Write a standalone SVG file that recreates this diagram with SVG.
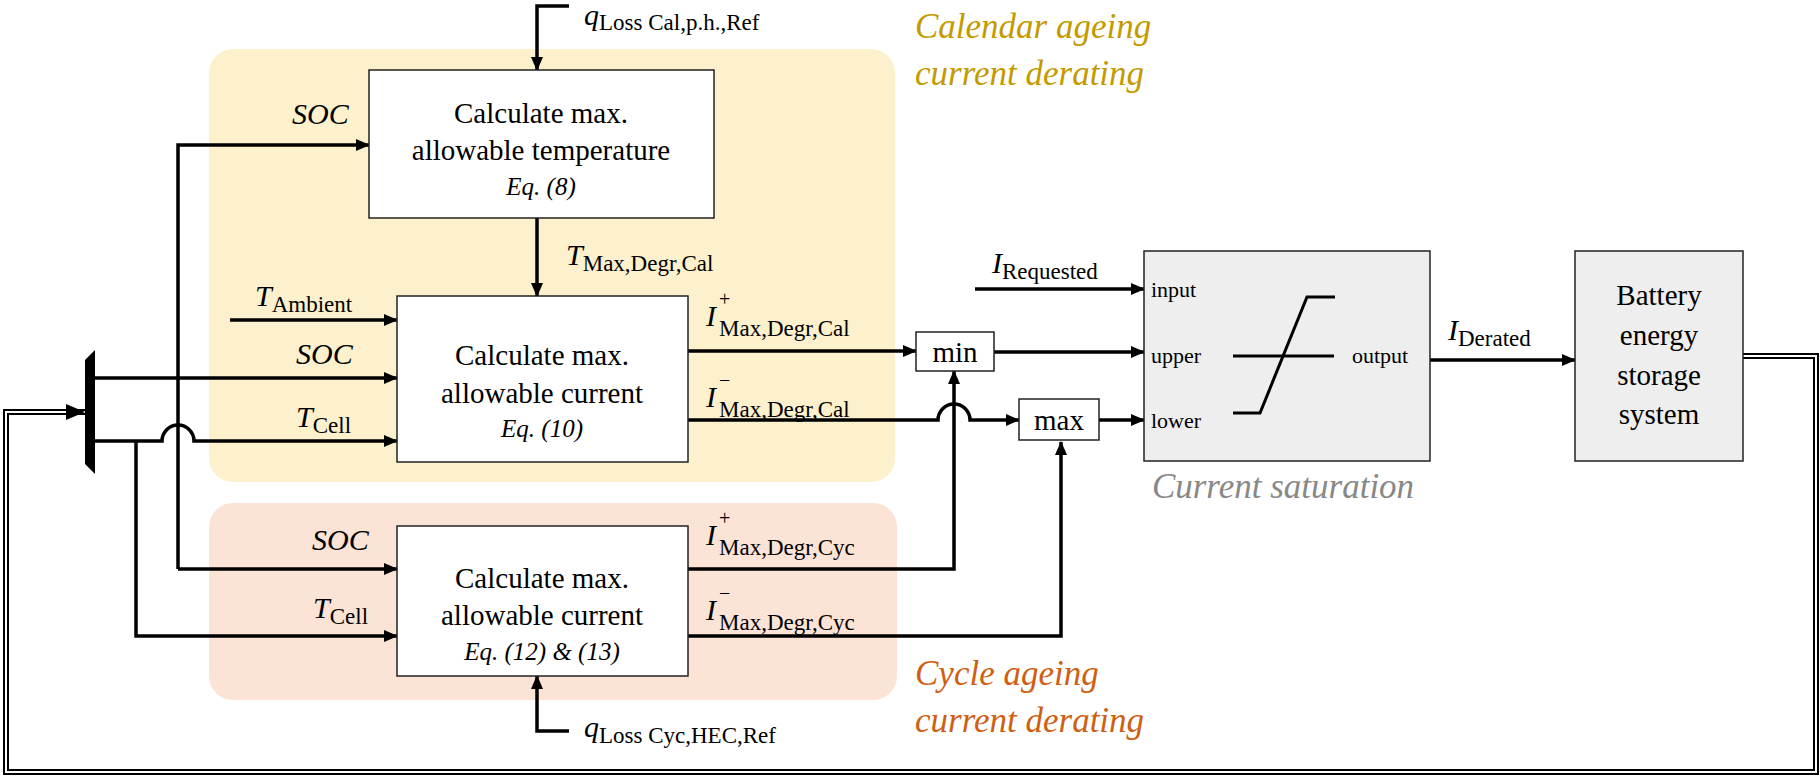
<svg xmlns="http://www.w3.org/2000/svg" width="1820" height="780" viewBox="0 0 1820 780">
<defs>
<marker id="ar" markerUnits="userSpaceOnUse" markerWidth="14" markerHeight="14" viewBox="0 0 14 14" refX="13" refY="7" orient="auto"><path d="M0,1 L14,7 L0,13 z" fill="#000"/></marker>
<style>
.w{stroke:#000;stroke-width:3.5;fill:none}
.bx{fill:#fff;stroke:#222;stroke-width:1.5}
.gb{fill:#eee;stroke:#222;stroke-width:1.5}
.t{font-family:"Liberation Serif",serif;font-size:29px;text-anchor:middle}
.e{font-family:"Liberation Serif",serif;font-size:25px;font-style:italic;text-anchor:middle}
.v{font-family:"Liberation Serif",serif;font-size:30px;font-style:italic}
.s{font-family:"Liberation Serif",serif;font-size:23px;font-style:normal}
.u{font-family:"Liberation Serif",serif;font-size:20px}
.p{font-family:"Liberation Serif",serif;font-size:22px}
.g{font-family:"Liberation Serif",serif;font-size:35px;font-style:italic}
</style>
</defs>
<rect x="209" y="49" width="686" height="433" rx="24" fill="#fdf0cc"/>
<rect x="209" y="503" width="688" height="197" rx="24" fill="#fbe3d6"/>
<text class="g" x="915" y="38" fill="#c49a00">Calendar ageing</text>
<text class="g" x="915" y="85" fill="#c49a00">current derating</text>
<text class="g" x="915" y="685" fill="#cf5f12">Cycle ageing</text>
<text class="g" x="915" y="732" fill="#cf5f12">current derating</text>
<g id="connectors">
<path class="w" d="M569,6 H537 V70" marker-end="url(#ar)"/>
<path class="w" d="M537,218 V296" marker-end="url(#ar)"/>
<path class="w" d="M569,731 H537 V676" marker-end="url(#ar)"/>
<path class="w" d="M178,569 V145 H369" marker-end="url(#ar)"/>
<path class="w" d="M178,569 H397" marker-end="url(#ar)"/>
<path class="w" d="M230,320 H397" marker-end="url(#ar)"/>
<path class="w" d="M95,378 H397" marker-end="url(#ar)"/>
<path class="w" d="M95,441 H162 A16,16 0 0 1 194,441 H397" marker-end="url(#ar)"/>
<path class="w" d="M136,441 V636 H397" marker-end="url(#ar)"/>
<path class="w" d="M688,351 H916" marker-end="url(#ar)"/>
<path class="w" d="M688,420 H938 A16,16 0 0 1 970,420 H1019" marker-end="url(#ar)"/>
<path class="w" d="M688,569 H954 V371" marker-end="url(#ar)"/>
<path class="w" d="M688,636 H1061 V442" marker-end="url(#ar)"/>
<path class="w" d="M994,352 H1144" marker-end="url(#ar)"/>
<path class="w" d="M1099,420 H1144" marker-end="url(#ar)"/>
<path class="w" d="M975,289 H1144" marker-end="url(#ar)"/>
<path class="w" d="M1430,360 H1575" marker-end="url(#ar)"/>
<path d="M1743,356 H1816 V772 H6 V412 H85" fill="none" stroke="#000" stroke-width="6"/>
<path d="M1743,356 H1816 V772 H6 V412 H85" fill="none" stroke="#fff" stroke-width="2"/>
<path d="M66,404 L85,412 L66,420 z" fill="#000"/>
<polygon points="85,360 95,350 95,474 85,464" fill="#000"/>
</g>
<g id="box1"><rect class="bx" x="369" y="70" width="345" height="148"/>
<text class="t" x="541" y="123">Calculate max.</text><text class="t" x="541" y="160">allowable temperature</text><text class="e" x="541" y="195">Eq. (8)</text></g>
<g id="box2"><rect class="bx" x="397" y="296" width="291" height="166"/>
<text class="t" x="542" y="365">Calculate max.</text><text class="t" x="542" y="403">allowable current</text><text class="e" x="542" y="437">Eq. (10)</text></g>
<g id="box3"><rect class="bx" x="397" y="526" width="291" height="150"/>
<text class="t" x="542" y="588">Calculate max.</text><text class="t" x="542" y="625">allowable current</text><text class="e" x="542" y="660">Eq. (12) &amp; (13)</text></g>
<g id="min"><rect class="bx" x="916" y="332" width="78" height="39"/><text class="t" x="955" y="362">min</text></g>
<g id="max"><rect class="bx" x="1019" y="399" width="80" height="41"/><text class="t" x="1059" y="430">max</text></g>
<g id="sat"><rect class="gb" x="1144" y="251" width="286" height="210"/>
<text class="p" x="1151" y="297">input</text><text class="p" x="1151" y="363">upper</text><text class="p" x="1151" y="428">lower</text><text class="p" x="1352" y="363">output</text>
<path d="M1233,356 H1334 M1233,413 H1260 L1307,297 H1335" fill="none" stroke="#000" stroke-width="3"/>
<text class="g" x="1283" y="498" text-anchor="middle" fill="#888" font-size="31">Current saturation</text></g>
<g id="battery"><rect class="gb" x="1575" y="251" width="168" height="210"/>
<text class="t" x="1659" y="305">Battery</text><text class="t" x="1659" y="345">energy</text><text class="t" x="1659" y="385">storage</text><text class="t" x="1659" y="424">system</text></g>
<g id="labels">
<text class="v" x="584" y="25">q<tspan class="s" dy="5">Loss Cal,p.h.,Ref</tspan></text>
<text class="v" x="292" y="124">SOC</text>
<text class="v" x="566" y="265">T<tspan class="s" dy="6">Max,Degr,Cal</tspan></text>
<text class="v" x="255" y="306">T<tspan class="s" dy="6">Ambient</tspan></text>
<text class="v" x="296" y="364">SOC</text>
<text class="v" x="296" y="427">T<tspan class="s" dy="6">Cell</tspan></text>
<text class="v" x="312" y="550">SOC</text>
<text class="v" x="313" y="618">T<tspan class="s" dy="6">Cell</tspan></text>
<text class="v" x="706" y="326">I</text><text class="u" x="719" y="306">+</text><text class="s" x="719" y="336">Max,Degr,Cal</text>
<text class="v" x="706" y="407">I</text><text class="u" x="719" y="387">−</text><text class="s" x="719" y="417">Max,Degr,Cal</text>
<text class="v" x="706" y="545">I</text><text class="u" x="719" y="525">+</text><text class="s" x="719" y="555">Max,Degr,Cyc</text>
<text class="v" x="706" y="620">I</text><text class="u" x="719" y="600">−</text><text class="s" x="719" y="630">Max,Degr,Cyc</text>
<text class="v" x="584" y="737">q<tspan class="s" dy="6">Loss Cyc,HEC,Ref</tspan></text>
<text class="v" x="992" y="273">I<tspan class="s" dy="6">Requested</tspan></text>
<text class="v" x="1448" y="340">I<tspan class="s" dy="6">Derated</tspan></text>
</g>
</svg>
